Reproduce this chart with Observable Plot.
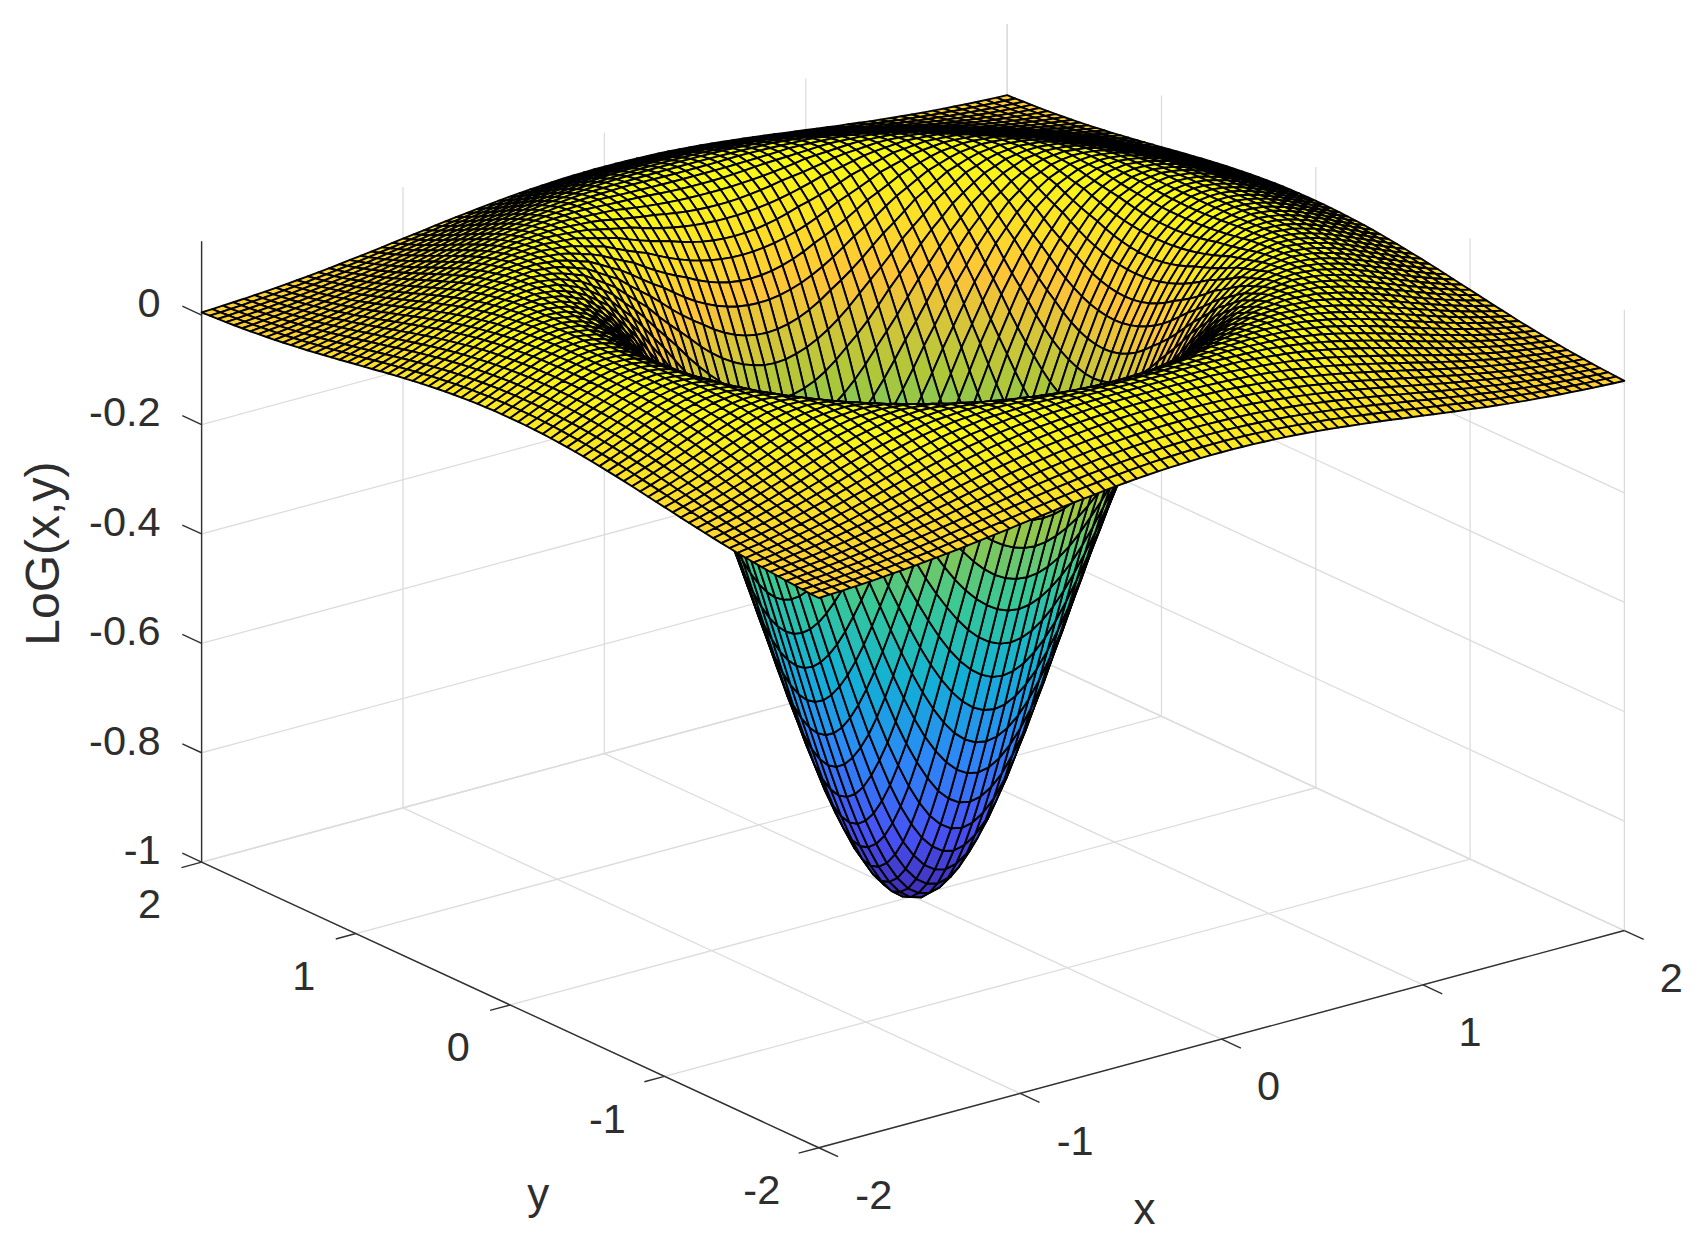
<!DOCTYPE html>
<html><head><meta charset="utf-8">
<script src="https://cdn.jsdelivr.net/npm/d3@7"></script>
<script src="https://cdn.jsdelivr.net/npm/@observablehq/plot@0.6"></script>
<style>html,body{margin:0;background:#fff}svg{display:block}</style>
</head><body><div id="chart"></div>
<script>
// NOTE: the reference's individual mesh vertices cannot be read from the picture.
// zProfile is a radial height profile fitted to checkpoints that can be read (pit floor, lip, rim height,
// edge and corner heights); mesh heights are linearly interpolated along it, so they are estimates, not readings.
const radii = [0,.05,.1,.15,.2,.25,.3,.35,.4,.5,.6,.7,.8,.9,1,1.1,1.2,1.3,1.4,1.5,1.6,1.7,1.8,1.9,2,2.1,2.2,2.3,2.4,2.5,2.6,2.7,2.8,2.9];
const zProfile = [-1,-.9956,-.9823,-.9606,-.9307,-.8934,-.8493,-.7992,-.744,-.6228,-.4938,-.3651,-.2441,-.1363,-.0457,.0258,.0778,.1118,.13,.1353,.131,.1202,.1055,.0892,.073,.0579,.0447,.0336,.0246,.0176,.0123,.0084,.0056,.0037];
const cellsPerSide = 76;
const xTicks = [-2,-1,0,1,2];
const yTicks = [-2,-1,0,1,2];
const zTicks = [-1,-.8,-.6,-.4,-.2,0];
const zTop = 0.135;
const parula = ["#3e26a8","#4752f4","#2d87f7","#12b1d6","#37c897","#abc739","#fec338","#f9fb15"];
const W = 1706, H = 1254;

// Camera: orthographic view of the axes box
const cam = {cx:912.5, cy:348.85, xu:201.4, xv:-54.3, yu:-154.3, yv:-71.4, zv:-547};
const P = (x,y,z) => [cam.cx + cam.xu*x + cam.yu*y, cam.cy + cam.xv*x + cam.yv*y + cam.zv*z];
const zAt = d3.scaleLinear(radii, zProfile).clamp(true);
const height3 = (x,y) => zAt(Math.hypot(x,y));

// Mesh cells, farthest first (painter's order)
const n = cellsPerSide;
const gv = i => -2 + i*4/n;
const cells = [];
for (let i=n-1;i>=0;i--) for (let j=n-1;j>=0;j--){
  const c = [[i,j],[i+1,j],[i+1,j+1],[i,j+1],[i,j]].map(([a,b])=>P(gv(a),gv(b),height3(gv(a),gv(b))));
  const zc = d3.mean([[i,j],[i+1,j],[i+1,j+1],[i,j+1]],([a,b])=>height3(gv(a),gv(b)));
  cells.push({geometry:{type:"Polygon",coordinates:[c]}, z:zc});
}

const seg = (a,b)=>{const p=P(...a),q=P(...b);return {x1:p[0],y1:p[1],x2:q[0],y2:q[1]};};
const grid = [
  ...xTicks.map(x=>seg([x,-2,-1],[x,2,-1])),
  ...yTicks.map(y=>seg([-2,y,-1],[2,y,-1])),
  ...xTicks.map(x=>seg([x,2,-1],[x,2,zTop])),
  ...yTicks.map(y=>seg([2,y,-1],[2,y,zTop])),
  ...zTicks.map(z=>seg([-2,2,z],[2,2,z])),
  ...zTicks.map(z=>seg([2,-2,z],[2,2,z]))
];
const axes = [
  seg([-2,2,-1],[-2,2,zTop]), seg([-2,-2,-1],[2,-2,-1]), seg([-2,-2,-1],[-2,2,-1]),
  ...zTicks.map(z=>seg([-2,2,z],[-2,2.125,z])),
  ...xTicks.map(x=>seg([x,-2,-1],[x,-2.125,-1])),
  ...yTicks.map(y=>seg([-2,y,-1],[-2.1,y,-1]))
];
const lab = (p,t)=>({px:p[0],py:p[1],t:String(t)});
const font = {fontFamily:"'Liberation Sans',Arial,sans-serif", fill:"#2e2e2e", stroke:null};
const tickSize = 41.5;

const chart = Plot.plot({
  width:W, height:H, margin:0,
  x:{domain:[0,W],range:[0,W],axis:null},
  y:{domain:[0,H],range:[0,H],axis:null},
  color:{type:"linear",domain:parula.map((_,i)=>-1+(zTop+1)*i/(parula.length-1)),range:parula,interpolate:"rgb"},
  marks:[
    Plot.link(grid,{x1:"x1",y1:"y1",x2:"x2",y2:"y2",stroke:"#dcdcdc",strokeWidth:1.3}),
    Plot.link(axes,{x1:"x1",y1:"y1",x2:"x2",y2:"y2",stroke:"#303030",strokeWidth:1.4}),
    Plot.geo(cells,{geometry:"geometry",fill:"z",stroke:"#000",strokeWidth:1.9,strokeLinejoin:"round"}),
    Plot.text(zTicks.map(z=>lab(P(-2,2,z),z)),{x:"px",y:"py",text:"t",dx:-41,dy:-11.5,textAnchor:"end",fontSize:tickSize,...font}),
    Plot.text(xTicks.filter(x=>x>=0).map(x=>lab(P(x,-2,-1),x)),{x:"px",y:"py",text:"t",dx:47,dy:48,textAnchor:"middle",fontSize:tickSize,...font}),
    Plot.text(xTicks.filter(x=>x<0).map(x=>lab(P(x,-2,-1),x)),{x:"px",y:"py",text:"t",dx:55,dy:48,textAnchor:"middle",fontSize:tickSize,...font}),
    Plot.text(yTicks.filter(y=>y>=0).map(y=>lab(P(-2,y,-1),y)),{x:"px",y:"py",text:"t",dx:-52,dy:43,textAnchor:"middle",fontSize:tickSize,...font}),
    Plot.text(yTicks.filter(y=>y<0).map(y=>lab(P(-2,y,-1),y)),{x:"px",y:"py",text:"t",dx:-57,dy:43,textAnchor:"middle",fontSize:tickSize,...font}),
    Plot.text([lab(P(0,-2,-1),"x")],{x:"px",y:"py",text:"t",dx:-77,dy:171,textAnchor:"middle",fontSize:44,...font}),
    Plot.text([lab(P(-2,0,-1),"y")],{x:"px",y:"py",text:"t",dx:28,dy:190,textAnchor:"middle",fontSize:44,...font}),
    Plot.text([lab(P(-2,2,-.5),"LoG(x,y)")],{x:"px",y:"py",text:"t",dx:-158,dy:-35,rotate:-90,textAnchor:"middle",fontSize:48,...font})
  ]
});
document.getElementById("chart").append(chart);
</script>
</body></html>
